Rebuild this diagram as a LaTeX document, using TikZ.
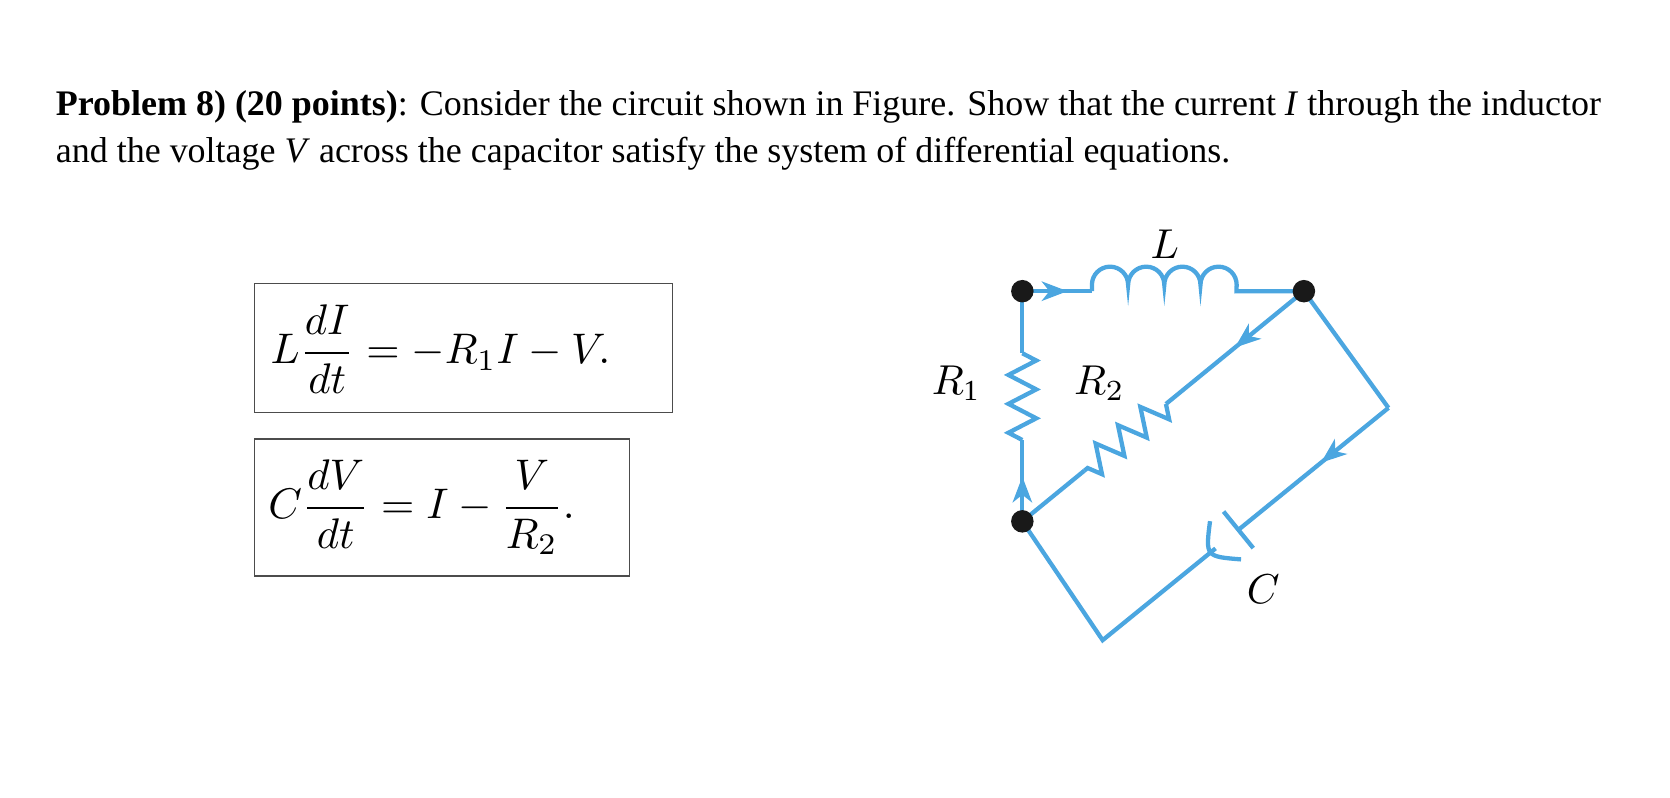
\documentclass[tikz,border=0pt]{standalone}
\usepackage{fontspec}
\setmainfont{Liberation Serif}
\usepackage{amsmath}
\usetikzlibrary{calc,decorations.pathmorphing,decorations.markings,arrows.meta}
\definecolor{wire}{HTML}{4BA6E0}
\tikzset{
  w/.style={draw=wire,line width=4pt,line join=miter},
  dot/.style={circle,fill=black!90,inner sep=0pt,minimum size=21pt},
  zz/.style={decorate,decoration={zigzag,amplitude=13pt,segment length=27pt}},
  marr/.style={postaction={decorate,decoration={markings,mark=at position #1 with {\arrow[wire]{Stealth[length=24pt,width=18pt,inset=7pt]}}}}},
  lab/.style={scale=3.9},
  eqbox/.style={draw=black!70,line width=1.2pt,inner sep=0pt}
}
\begin{document}
\begin{tikzpicture}[x=1pt,y=-1pt]
\useasboundingbox (0,0) rectangle (1560,745);
% text
\node[anchor=base west,inner sep=0pt,font=\fontsize{33.6}{40}\selectfont] (t1) at (52,108) {\textbf{Problem 8) (20 points)}: Consider the circuit shown in Figure. Show that the current \textit{I} through the inductor};
\node[anchor=base west,inner sep=0pt,font=\fontsize{33.6}{40}\selectfont] (t2) at (52,152) {and the voltage \textit{V} across the capacitor satisfy the system of differential equations.};
% equations
\draw[eqbox] (238,265) rectangle (628,385);
\draw[eqbox] (238,410) rectangle (588,538);
\node[anchor=west,inner sep=0pt,scale=4] (e1) at (252,326) {$\displaystyle L\frac{dI}{dt}=-R_1I-V.$};
\node[anchor=west,inner sep=0pt,scale=4] (e2) at (250,474) {$\displaystyle C\frac{dV}{dt}=I-\frac{V}{R_2}.$};
% circuit nodes
\coordinate (A) at (955,272);
\coordinate (B) at (1218,272);
\coordinate (D) at (955,487);
\coordinate (E) at (1297,381);
\coordinate (F) at (1030,598);
% top branch with inductor
\draw[w,marr=0.65] (A) -- (1020,272);
\draw[w] (1020,272) -- (1020,266) arc[start angle=180,end angle=360,radius=16.9]
  arc[start angle=180,end angle=360,radius=16.9]
  arc[start angle=180,end angle=360,radius=16.9]
  arc[start angle=180,end angle=360,radius=16.9] -- (1155,272) -- (B);
% R1
\draw[w] (A) -- (955,330);
\draw[w,zz] (955,330) -- (955,411);
\draw[w,marr=0.55] (D) -- (955,411);
% R2
\coordinate (r2a) at ($(B)!0.49!(D)$);
\coordinate (r2b) at ($(B)!0.78!(D)$);
\draw[w,marr=0.5] (B) -- (r2a);
\draw[w,zz] (r2a) -- (r2b);
\draw[w] (r2b) -- (D);
% outer loop with capacitor
\coordinate (P2) at ($(F)!0.475!(E)$);
\coordinate (Pm) at ($(F)!0.395!(E)$);
\coordinate (Pe) at ($(F)!0.43!(E)$);
\coordinate (Pc) at ($(F)!0.36!(E)$);
\draw[w] (D) -- (F) -- (Pm);
\draw[w] (B) -- (E);
\draw[w,marr=0.45] (E) -- (P2);
\draw[w] ($(P2)!22pt!90:(E)$) -- ($(P2)!22pt!-90:(E)$);
\draw[w] ($(Pe)!23pt!90:(E)$) .. controls (Pc) .. ($(Pe)!23pt!-90:(E)$);
% dots
\node[dot] (nA) at (A) {};
\node[dot] (nB) at (B) {};
\node[dot] (nD) at (D) {};
% labels
\node[lab] (lL) at (1088,228) {$L$};
\node[lab] (lR1) at (893,358) {$R_{\mathrm{1}}$};
\node[lab] (lR2) at (1027,358) {$R_2$};
\node[lab] (lC) at (1180,550) {$C$};
\end{tikzpicture}
\end{document}
